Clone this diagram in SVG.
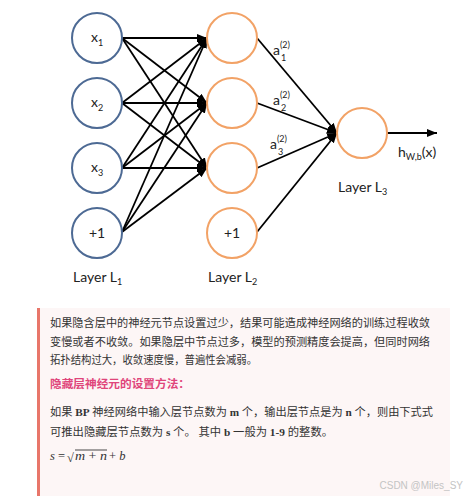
<svg xmlns="http://www.w3.org/2000/svg" width="474" height="496" viewBox="0 0 474 496">
<defs>
<style>
.n1{fill:#fff;stroke:#4d6a94;stroke-width:2}
.n2{fill:#fff;stroke:#f2a266;stroke-width:2}
.lbl{font-family:Lato,"Open Sans",sans-serif;font-size:14px;fill:#222}
.sub{font-size:9px}
.e{stroke:#000;stroke-width:1.8;fill:none;marker-end:url(#ah)}
.cn{font-family:"Liberation Serif","Noto Sans CJK SC",serif;font-size:11px;fill:#333}
.hd{fill:#e0457b;font-weight:bold}
.f{font-family:"Liberation Serif",serif;font-size:12.5px;fill:#333}
</style>
<marker id="ah" markerUnits="userSpaceOnUse" markerWidth="11" markerHeight="9" refX="10" refY="4" orient="auto">
<path d="M0,0 L10,4 L0,8 z" fill="#000"/>
</marker>
</defs>
<rect width="474" height="496" fill="#fff"/>
<g id="connectors">
<line class="e" x1="122" y1="38" x2="207" y2="38"/>
<line class="e" x1="122" y1="38" x2="207" y2="103"/>
<line class="e" x1="122" y1="38" x2="207" y2="168"/>
<line class="e" x1="122" y1="103" x2="207" y2="38"/>
<line class="e" x1="122" y1="103" x2="207" y2="103"/>
<line class="e" x1="122" y1="103" x2="207" y2="168"/>
<line class="e" x1="122" y1="168" x2="207" y2="38"/>
<line class="e" x1="122" y1="168" x2="207" y2="103"/>
<line class="e" x1="122" y1="168" x2="207" y2="168"/>
<line class="e" x1="122" y1="232" x2="207" y2="38"/>
<line class="e" x1="122" y1="232" x2="207" y2="103"/>
<line class="e" x1="122" y1="232" x2="207" y2="168"/>
<line class="e" x1="257" y1="38" x2="337" y2="133"/>
<line class="e" x1="257" y1="103" x2="337" y2="133"/>
<line class="e" x1="257" y1="168" x2="337" y2="133"/>
<line class="e" x1="257" y1="232" x2="337" y2="133"/>
<line class="e" x1="387" y1="133" x2="437" y2="133"/>
</g>
<g id="x1"><circle class="n1" cx="97" cy="38" r="25"/><text class="lbl" x="91" y="42">x<tspan class="sub" dy="4">1</tspan></text></g>
<g id="x2"><circle class="n1" cx="97" cy="103" r="25"/><text class="lbl" x="91" y="107">x<tspan class="sub" dy="4">2</tspan></text></g>
<g id="x3"><circle class="n1" cx="97" cy="168" r="25"/><text class="lbl" x="91" y="172">x<tspan class="sub" dy="4">3</tspan></text></g>
<g id="b1"><circle class="n1" cx="97" cy="233" r="25"/><text class="lbl" x="97" y="238" text-anchor="middle">+1</text></g>
<g id="h1"><circle class="n2" cx="232" cy="38" r="25"/></g>
<g id="h2"><circle class="n2" cx="232" cy="103" r="25"/></g>
<g id="h3"><circle class="n2" cx="232" cy="168" r="25"/></g>
<g id="b2"><circle class="n2" cx="232" cy="233" r="25"/><text class="lbl" x="232" y="238" text-anchor="middle">+1</text></g>
<g id="out"><circle class="n2" cx="362" cy="133" r="25"/></g>
<g id="labels">
<text class="lbl" x="73" y="282">Layer L<tspan class="sub" dy="3">1</tspan></text>
<text class="lbl" x="208" y="282">Layer L<tspan class="sub" dy="3">2</tspan></text>
<text class="lbl" x="338" y="192">Layer L<tspan class="sub" dy="3">3</tspan></text>
<text class="lbl" x="398" y="157">h<tspan class="sub" dy="3">W,b</tspan><tspan dy="-3">(x)</tspan></text>
<text class="lbl" x="273" y="55">a<tspan class="sub" dy="-7">(2)</tspan><tspan class="sub" x="281" dy="13">1</tspan></text>
<text class="lbl" x="273" y="105">a<tspan class="sub" dy="-7">(2)</tspan><tspan class="sub" x="281" dy="13">2</tspan></text>
<text class="lbl" x="270" y="149">a<tspan class="sub" dy="-7">(2)</tspan><tspan class="sub" x="278" dy="13">3</tspan></text>
</g>
<g id="note">
<rect x="40" y="308" width="410" height="188" fill="#fdf6f6"/>
<rect x="37" y="308" width="3" height="188" fill="#e8766a"/>
<text class="cn" x="50" y="327" textLength="380" lengthAdjust="spacingAndGlyphs">如果隐含层中的神经元节点设置过少，结果可能造成神经网络的训练过程收敛</text>
<text class="cn" x="50" y="346" textLength="380" lengthAdjust="spacingAndGlyphs">变慢或者不收敛。如果隐层中节点过多，模型的预测精度会提高，但同时网络</text>
<text class="cn" x="50" y="364" textLength="207" lengthAdjust="spacingAndGlyphs">拓扑结构过大，收敛速度慢，普遍性会减弱。</text>
<text class="cn hd" x="50" y="388" textLength="140" lengthAdjust="spacingAndGlyphs">隐藏层神经元的设置方法：</text>
<text class="cn" x="50" y="416" textLength="383" lengthAdjust="spacingAndGlyphs">如果 <tspan font-weight="bold">BP</tspan> 神经网络中输入层节点数为 <tspan font-weight="bold">m</tspan> 个，输出层节点是为 <tspan font-weight="bold">n</tspan> 个，则由下式式</text>
<text class="cn" x="50" y="436" textLength="283" lengthAdjust="spacingAndGlyphs">可推出隐藏层节点数为 <tspan font-weight="bold">s</tspan> 个。 其中 <tspan font-weight="bold">b</tspan> 一般为 <tspan font-weight="bold">1-9</tspan> 的整数。</text>
<text class="f" x="50" y="460"><tspan font-style="italic">s</tspan> =</text>
<text class="f" x="67" y="462" font-size="15">√</text>
<line x1="75" y1="450" x2="107" y2="450" stroke="#333" stroke-width="0.9"/>
<text class="f" x="75" y="460" textLength="32" lengthAdjust="spacingAndGlyphs"><tspan font-style="italic">m</tspan> + <tspan font-style="italic">n</tspan></text>
<text class="f" x="109" y="460">+ <tspan font-style="italic">b</tspan></text>
<text x="463" y="489" text-anchor="end" font-family="'Liberation Sans',sans-serif" font-size="10" fill="#c4c4c4">CSDN @Miles_SY</text>
</g>
</svg>
